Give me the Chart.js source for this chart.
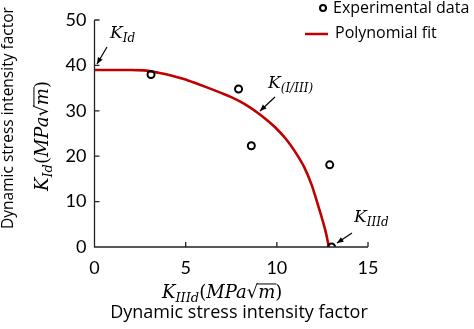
<!DOCTYPE html>
<html>
<head>
<meta charset="utf-8">
<script src="https://cdn.jsdelivr.net/npm/chart.js@4.4.1/dist/chart.umd.min.js"></script>
<style>
  html, body { margin: 0; padding: 0; background: #fff; }
  #wrap { width: 474px; height: 329px; }
</style>
</head>
<body>
<div id="wrap"><canvas id="fit-chart" width="474" height="329"></canvas></div>
<script>
// experimental points (K_IIId, K_Id)
var expX = [3.1, 7.9, 8.6, 12.9, 13.0];
var expY = [38.0, 34.8, 22.3, 18.1, 0.0];

// polynomial fit
var fitX = [0, 1, 2, 2.7, 3.5, 4.2, 4.9, 5.6, 6.2, 6.9, 7.5, 8.0, 8.5, 9.0, 9.5, 10.0, 10.5, 11.0, 11.5, 11.9, 12.2, 12.5, 12.7, 12.85];
var fitY = [39, 39, 39, 38.9, 38.4, 37.8, 37.0, 36.0, 35.1, 34.0, 33.0, 32.0, 30.8, 29.4, 27.8, 26.0, 23.8, 21.0, 17.6, 13.8, 10.0, 6.0, 3.0, 0];

var xTicks = [0, 5, 10, 15];
var yTicks = [0, 10, 20, 30, 40, 50];

var tickFont = 'Lato, "Open Sans", sans-serif';
var textFont = '"Open Sans", Lato, sans-serif';
var mathFont = '"DejaVu Serif", "Liberation Serif", serif';

function toPoints(xs, ys) {
    return xs.map(function (x, i) { return {x: x, y: ys[i]}; });
}

// K with italic subscript, optional trailing (MPa√m)
function drawK(ctx, x, y, sub, units, size) {
    ctx.save();
    ctx.fillStyle = '#000';
    ctx.textBaseline = 'alphabetic';
    ctx.textAlign = 'left';
    ctx.font = 'italic ' + size + 'px ' + mathFont;
    ctx.fillText('K', x, y);
    var w = ctx.measureText('K').width;
    ctx.font = 'italic ' + Math.round(size * 0.7) + 'px ' + mathFont;
    ctx.fillText(sub, x + w, y + size * 0.22);
    w += ctx.measureText(sub).width;
    if (units) {
        ctx.font = size + 'px ' + mathFont;
        ctx.fillText('(', x + w, y);
        w += ctx.measureText('(').width;
        ctx.font = 'italic ' + size + 'px ' + mathFont;
        ctx.fillText('MPa', x + w, y);
        w += ctx.measureText('MPa').width;
        ctx.font = size + 'px ' + mathFont;
        ctx.fillText('\u221A', x + w, y);
        var sw = ctx.measureText('\u221A').width;
        ctx.font = 'italic ' + size + 'px ' + mathFont;
        var mw = ctx.measureText('m').width;
        ctx.fillText('m', x + w + sw, y);
        ctx.beginPath();
        ctx.strokeStyle = '#000';
        ctx.lineWidth = 1;
        ctx.moveTo(x + w + sw - 1, y - size * 0.78);
        ctx.lineTo(x + w + sw + mw + 1, y - size * 0.78);
        ctx.stroke();
        w += sw + mw;
        ctx.font = size + 'px ' + mathFont;
        ctx.fillText(')', x + w, y);
        w += ctx.measureText(')').width;
    }
    ctx.restore();
    return w;
}

function arrow(ctx, x1, y1, x2, y2) {
    ctx.save();
    ctx.strokeStyle = '#000';
    ctx.fillStyle = '#000';
    ctx.lineWidth = 1.2;
    ctx.beginPath();
    ctx.moveTo(x1, y1);
    ctx.lineTo(x2, y2);
    ctx.stroke();
    var a = Math.atan2(y2 - y1, x2 - x1);
    ctx.beginPath();
    ctx.moveTo(x2, y2);
    ctx.lineTo(x2 - 7 * Math.cos(a - 0.4), y2 - 7 * Math.sin(a - 0.4));
    ctx.lineTo(x2 - 7 * Math.cos(a + 0.4), y2 - 7 * Math.sin(a + 0.4));
    ctx.closePath();
    ctx.fill();
    ctx.restore();
}

var decorPlugin = {
    id: 'decor',
    afterDraw: function (chart) {
        var ctx = chart.ctx;
        var xs = chart.scales.x, ys = chart.scales.y;
        var area = chart.chartArea;

        // axis lines and inside tick marks
        ctx.save();
        ctx.strokeStyle = '#222';
        ctx.lineWidth = 1.3;
        ctx.beginPath();
        ctx.moveTo(area.left, area.top);
        ctx.lineTo(area.left, area.bottom);
        ctx.lineTo(area.right, area.bottom);
        yTicks.forEach(function (v) {
            if (v === 0) return;
            var py = ys.getPixelForValue(v);
            ctx.moveTo(area.left, py);
            ctx.lineTo(area.left + 5, py);
        });
        xTicks.forEach(function (v) {
            if (v === 0) return;
            var px = xs.getPixelForValue(v);
            ctx.moveTo(px, area.bottom);
            ctx.lineTo(px, area.bottom - 5);
        });
        ctx.stroke();
        ctx.restore();

        // axis titles
        ctx.save();
        ctx.fillStyle = '#000';
        ctx.font = '18px ' + textFont;
        ctx.textAlign = 'center';
        ctx.textBaseline = 'middle';
        ctx.fillText('Dynamic stress intensity factor', 239, 313);
        ctx.font = '15.5px ' + textFont;
        ctx.translate(9, 118);
        ctx.rotate(-Math.PI / 2);
        ctx.fillText('Dynamic stress intensity factor', 0, 0);
        ctx.restore();

        // math titles
        drawK(ctx, 162, 298, 'IIId', true, 18);
        ctx.save();
        ctx.translate(48, 191);
        ctx.rotate(-Math.PI / 2);
        drawK(ctx, 0, 0, 'Id', true, 18);
        ctx.restore();

        // annotations
        drawK(ctx, 110, 38, 'Id', false, 17);
        arrow(ctx, 107, 47, 97, 64);
        drawK(ctx, 268, 88, '(I/III)', false, 17);
        arrow(ctx, 275, 97, 260, 111);
        drawK(ctx, 354, 222, 'IIId', false, 17);
        arrow(ctx, 352, 233, 337, 243);

        // legend
        ctx.save();
        ctx.font = '16px ' + textFont;
        ctx.fillStyle = '#000';
        ctx.textBaseline = 'middle';
        ctx.textAlign = 'left';
        ctx.beginPath();
        ctx.strokeStyle = '#000';
        ctx.lineWidth = 2;
        ctx.arc(323, 8, 3, 0, Math.PI * 2);
        ctx.stroke();
        ctx.fillText('Experimental data', 333, 8);
        ctx.beginPath();
        ctx.strokeStyle = '#c00000';
        ctx.lineWidth = 2.5;
        ctx.moveTo(305, 34);
        ctx.lineTo(328, 34);
        ctx.stroke();
        ctx.fillText('Polynomial fit', 335, 33);
        ctx.restore();
    }
};

var fitChart = new Chart(document.getElementById('fit-chart'), {
    type: 'scatter',
    data: {
        datasets: [{
            label: 'Polynomial fit',
            data: toPoints(fitX, fitY),
            showLine: true,
            borderColor: '#c00000',
            borderWidth: 2.6,
            pointRadius: 0,
            cubicInterpolationMode: 'monotone',
            order: 2
        }, {
            label: 'Experimental data',
            data: toPoints(expX, expY),
            showLine: false,
            pointRadius: 3.5,
            pointBorderWidth: 2,
            pointBorderColor: '#000',
            pointBackgroundColor: 'rgba(255,255,255,0)',
            order: 1
        }]
    },
    options: {
        responsive: false,
        animation: false,
        devicePixelRatio: 1,
        layout: {
            padding: {left: 0, top: 20, right: 106, bottom: 0}
        },
        plugins: {
            legend: {display: false},
            tooltip: {enabled: false}
        },
        scales: {
            x: {
                type: 'linear',
                min: 0,
                max: 15,
                afterBuildTicks: function (s) { s.ticks = xTicks.map(function (v) { return {value: v}; }); },
                afterFit: function (s) { s.height = 82; },
                grid: {display: false, drawTicks: false},
                border: {display: false},
                ticks: {
                    color: '#000',
                    padding: 10,
                    maxRotation: 0,
                    font: {family: tickFont, size: 18}
                }
            },
            y: {
                type: 'linear',
                min: 0,
                max: 50,
                afterBuildTicks: function (s) { s.ticks = yTicks.map(function (v) { return {value: v}; }); },
                afterFit: function (s) { s.width = 94.5; },
                grid: {display: false, drawTicks: false},
                border: {display: false},
                ticks: {
                    color: '#000',
                    padding: 8,
                    font: {family: tickFont, size: 18}
                }
            }
        }
    },
    plugins: [decorPlugin]
});
</script>
</body>
</html>
